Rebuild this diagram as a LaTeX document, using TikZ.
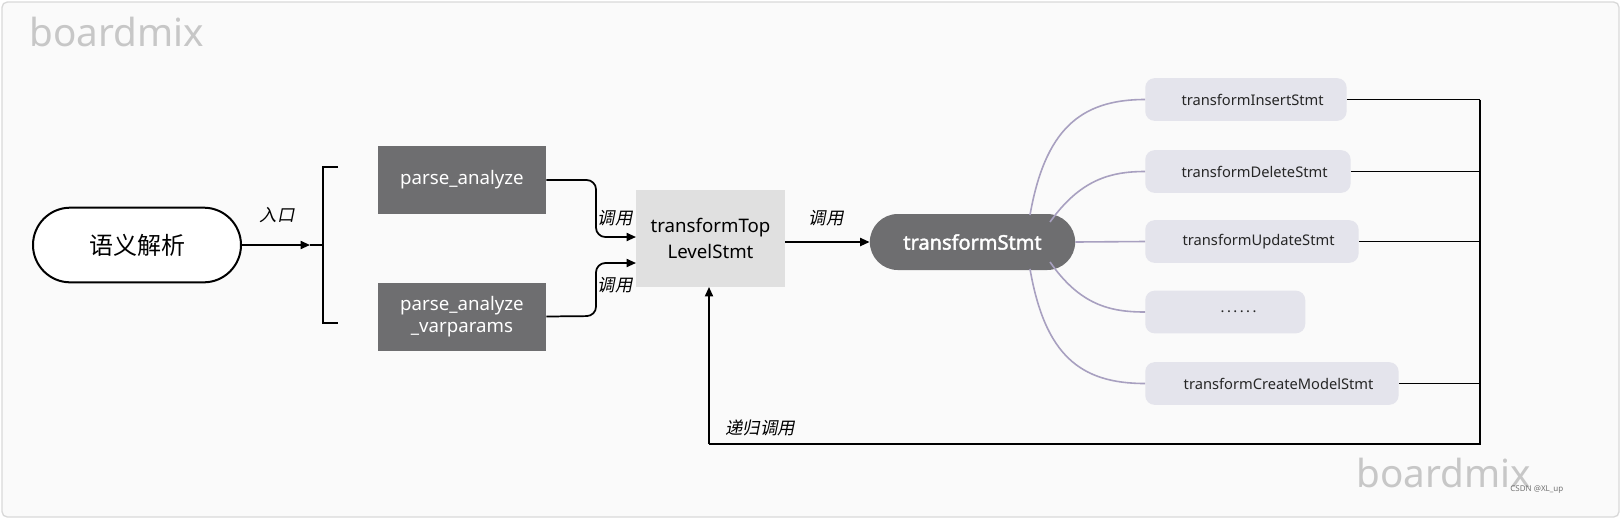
\documentclass[tikz,border=0pt]{standalone}
\usepackage{fontspec}
\setmainfont{Noto Sans}
\newfontfamily\cjk{Noto Sans CJK SC}
\newfontfamily\cjksl[FakeSlant=0.2]{Noto Sans CJK SC}
\newfontfamily\boldf[FakeBold=2]{Noto Sans}
\usetikzlibrary{arrows.meta}
\definecolor{dk}{HTML}{6E6E70}
\definecolor{lt}{HTML}{E0E0E0}
\definecolor{pl}{HTML}{E4E4EC}
\definecolor{cv}{HTML}{A8A0C0}
\begin{document}
\begin{tikzpicture}[x=0.75pt,y=-0.75pt,
  dkbox/.style={fill=dk,text=white,minimum width=126pt,minimum height=51pt,align=center,font=\fontsize{14}{17}\selectfont},
  pill/.style={fill=pl,rounded corners=7pt,minimum height=32pt,anchor=west,font=\fontsize{11}{13}\selectfont,text=black!85},
  lbl/.style={font=\cjksl\fontsize{13}{15}\selectfont},
  ar/.style={-{Triangle[length=7pt,width=6pt]},line width=1.3pt},
  ln/.style={line width=1.3pt}]
\draw[fill=black!2,draw=black!15,rounded corners=4pt,line width=1pt] (2,2) rectangle (1619,517);
\node[anchor=west,text=black!22,font=\fontsize{29}{32}\selectfont] (wm1) at (25,32) {boardmix};
\node[anchor=west,text=black!22,font=\fontsize{29}{32}\selectfont] (wm2) at (1352,473) {boardmix};
\node[anchor=east,text=black!55,font=\fontsize{6}{7}\selectfont] (csdn) at (1568,490) {CSDN @XL\_up};
\node[draw,line width=1.5pt,rounded corners=28pt,fill=white,minimum width=156pt,minimum height=56pt,font=\cjk\fontsize{18}{20}\selectfont] (yy) at (137,245) {语义解析};
\coordinate (bk) at (323,245);
\draw[ar] (yy.east) -- (310,245);
\draw[ln] (310,245) -- (bk);
\node[lbl] (rk) at (277,215) {入口};
\draw[ln] (338,167) -- (323,167) -- (323,323) -- (338,323);
\node[dkbox] (pa) at (462,180) {parse\_analyze};
\node[dkbox] (pv) at (462,316.5) {parse\_analyze\\\_varparams};
\node[fill=lt,minimum width=112pt,minimum height=73pt,align=center,font=\fontsize{14}{19}\selectfont] (tl) at (710.5,238.5) {transformTop\\LevelStmt};
\draw[ar,rounded corners=7pt] (pa.east) -- (596,180) -- (596,237) -- (636,237);
\draw[ar,rounded corners=7pt] (pv.east) -- (596,316) -- (596,263) -- (636,263);
\node[lbl] (l1) at (615,218) {调用};
\node[lbl] (l2) at (615,285) {调用};
\node[fill=dk,text=white,rounded corners=21pt,minimum width=154pt,minimum height=42pt,font=\boldf\fontsize{15}{18}\selectfont] (ts) at (972.5,242) {transformStmt};
\draw[ar] (tl.east |- 0,242) -- (ts.west);
\node[lbl] (l3) at (826,218) {调用};
\node[pill,minimum width=151pt] (p1) at (1145,99.5) {\hspace*{10pt}transformInsertStmt};
\node[pill,minimum width=154pt] (p2) at (1145,171.5) {\hspace*{10pt}transformDeleteStmt};
\node[pill,minimum width=160pt] (p3) at (1145,241.5) {\hspace*{10pt}transformUpdateStmt};
\node[pill,minimum width=120pt] (p4) at (1145,312) {\hspace*{20pt}.\,.\,.\,.\,.\,.};
\node[pill,minimum width=190pt] (p5) at (1145,383.5) {\hspace*{10pt}transformCreateModelStmt};
\draw[cv,line width=1.2pt] (1030,215) .. controls (1045,130) and (1080,99.5) .. (p1.west);
\draw[cv,line width=1.2pt] (1050,222) .. controls (1080,180) and (1110,171.5) .. (p2.west);
\draw[cv,line width=1.2pt] (ts.east) -- (p3.west);
\draw[cv,line width=1.2pt] (1050,262) .. controls (1080,305) and (1110,312) .. (p4.west);
\draw[cv,line width=1.2pt] (1030,269) .. controls (1045,355) and (1080,383.5) .. (p5.west);
\coordinate (c1) at (1480,99.5);
\coordinate (c5) at (1480,444);
\foreach \p in {p1,p2,p3,p5} \draw[ln] (\p.east) -- (1480,0 |- \p.east);
\draw[ln] (c1) -- (c5) -- (709,444);
\draw[ar] (709,444) -- (709,287);
\node[lbl] (l4) at (760,428) {递归调用};
\pgfresetboundingbox
\useasboundingbox (0,0) rectangle (1621,519);
\end{tikzpicture}
\end{document}
